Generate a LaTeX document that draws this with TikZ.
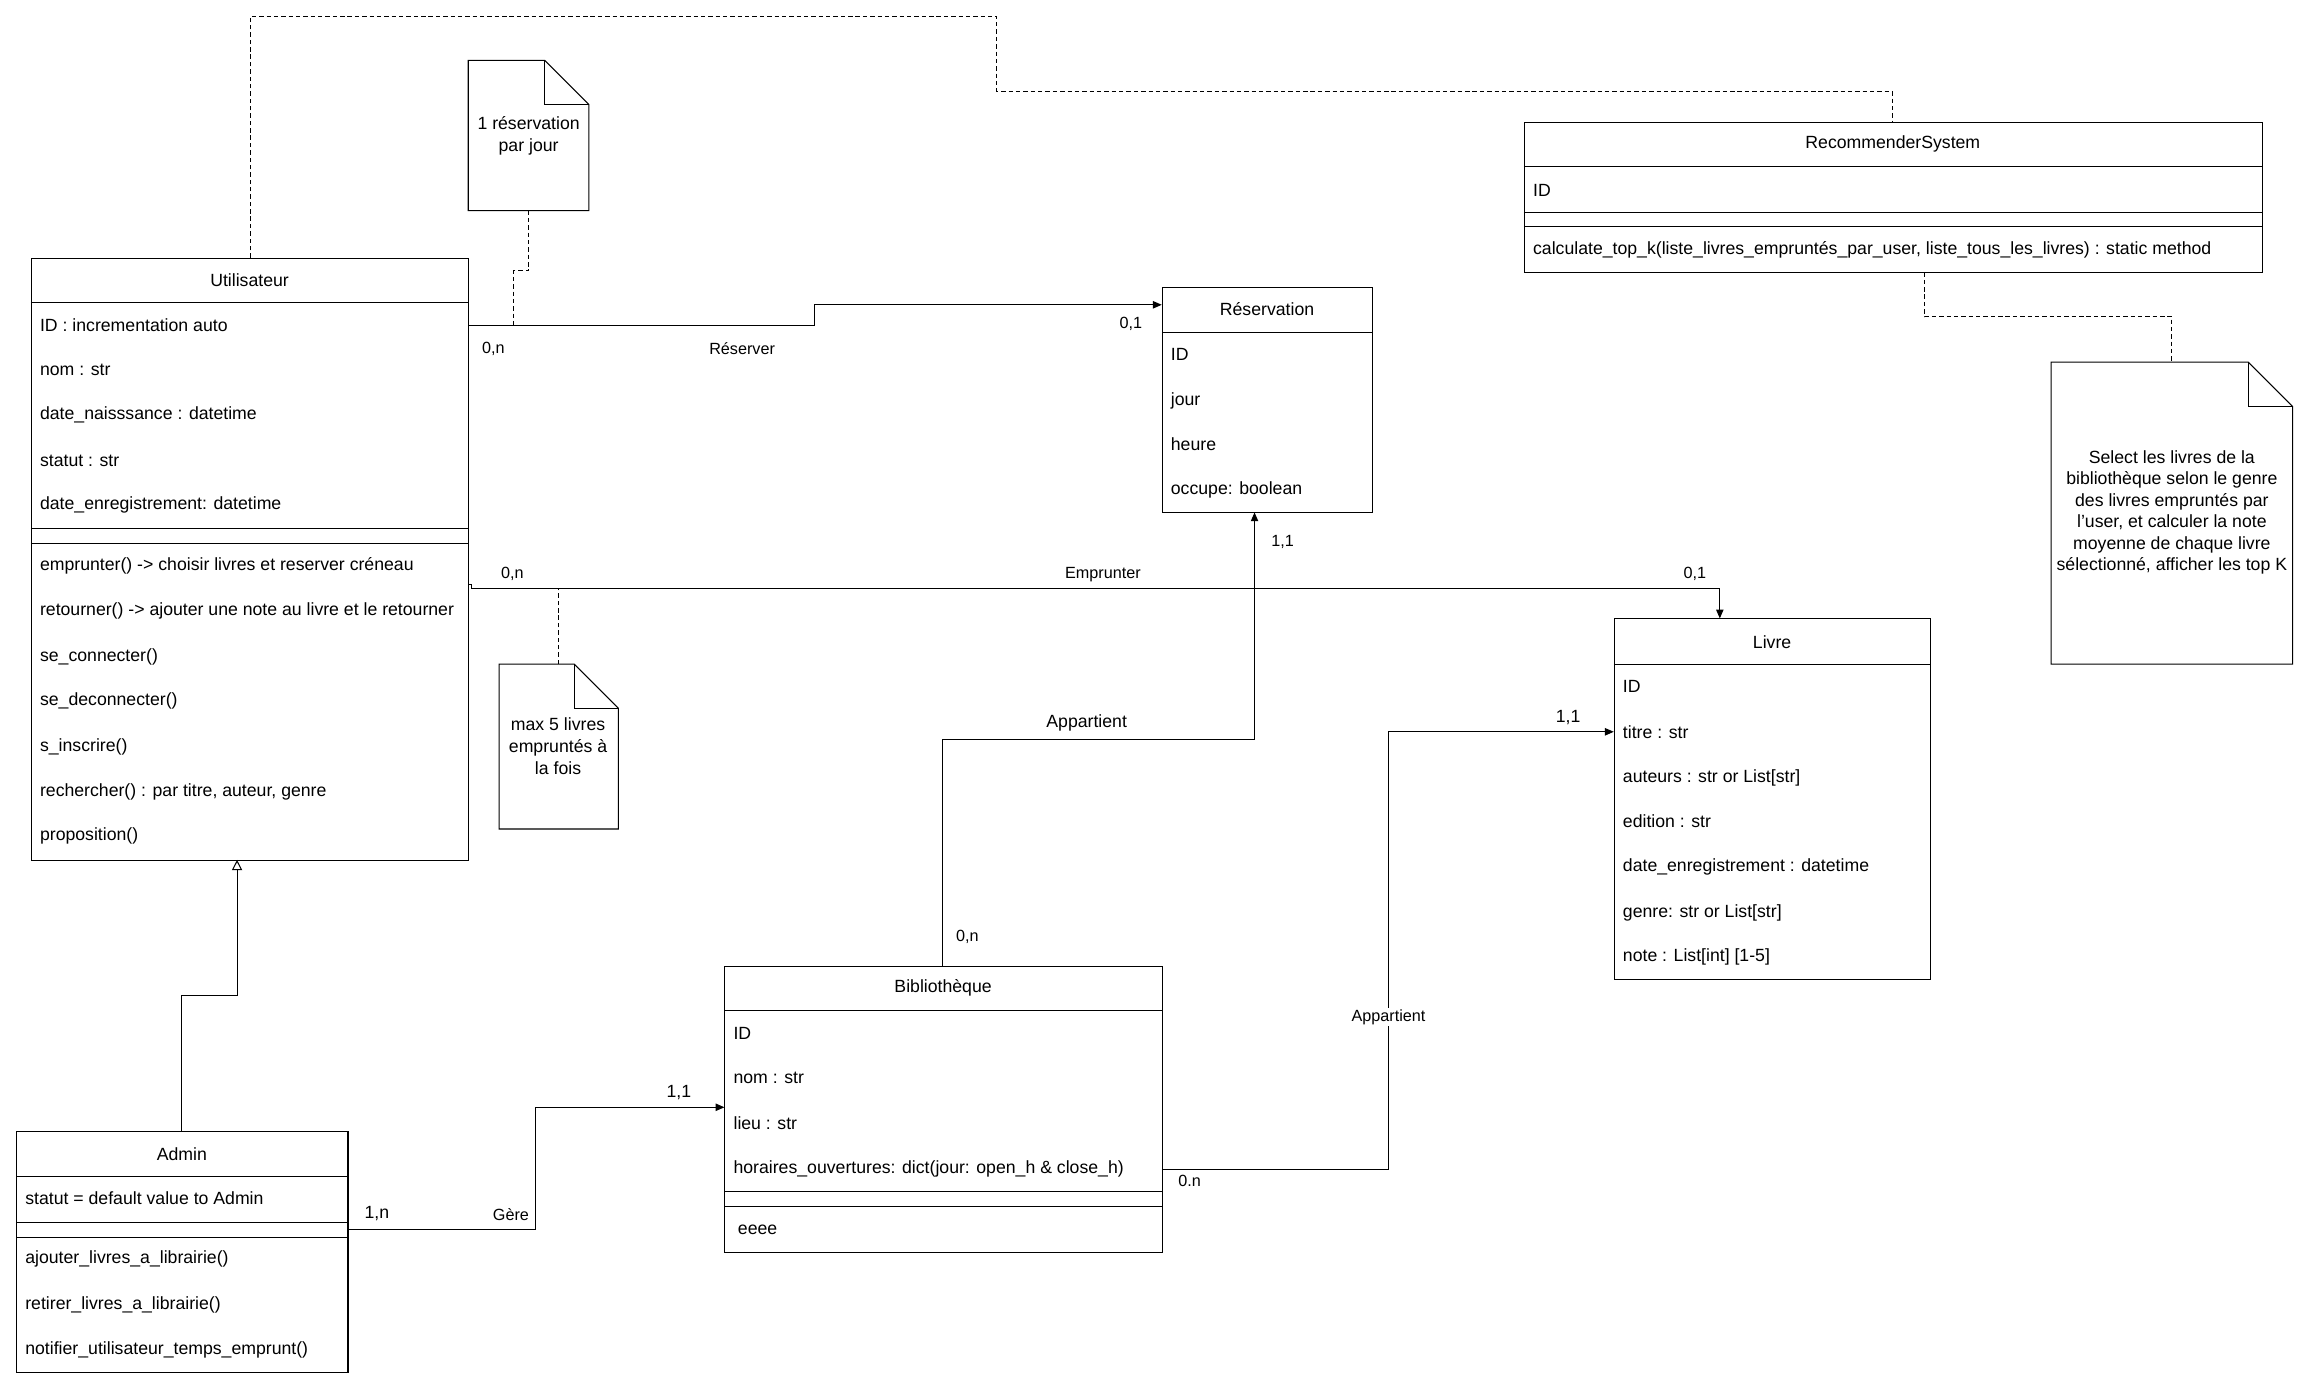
\documentclass[tikz,border=0pt]{standalone}
\usepackage{fontspec}
\setmainfont{Liberation Sans}
\usetikzlibrary{arrows.meta}
\begin{document}
\begin{tikzpicture}[x=1pt,y=-1pt,font=\fontsize{12}{14}\selectfont,
 box/.style={draw,line width=0.7pt},
 t/.style={anchor=west,inner sep=0},
 c/.style={inner sep=0},
 lbl/.style={inner sep=1pt,font=\fontsize{11}{13}\selectfont},
 conn/.style={line width=0.7pt},
 arr/.style={conn,-{Triangle[length=6pt,width=5pt]}},
 dsh/.style={line width=0.7pt,dash pattern=on 3pt off 2pt},
 note/.style={draw,line width=0.7pt,fill=white}]
\useasboundingbox[fill=white] (0,0) rectangle (1560,938.6);
% Utilisateur
\node[box,minimum width=297pt,minimum height=409pt,anchor=north west,inner sep=0] (U) at (21,175) {};
\draw (21,205)--(318,205) (21,359)--(318,359) (21,369)--(318,369);
\node[c] at (169.5,190) {Utilisateur};
\foreach \y/\s in {221/{ID : incrementation auto},251/{nom : str},282/{date\_naisssance : datetime},313/{statut : str},343/{date\_enregistrement: datetime},384/{emprunter() -> choisir livres et reserver créneau},415/{retourner() -> ajouter une note au livre et le retourner},446/{se\_connecter()},476/{se\_deconnecter()},507/{s\_inscrire()},538/{rechercher() : par titre, auteur, genre},568/{proposition()}}
 \node[t] at (27,\y) {\s};
% Reservation
\node[box,minimum width=143pt,minimum height=153pt,anchor=north west,inner sep=0] (R) at (789,195) {};
\draw (789,226)--(932,226);
\node[c] at (860.5,210) {Réservation};
\foreach \y/\s in {241/ID,272/jour,302/heure,333/{occupe: boolean}} \node[t] at (795,\y) {\s};
% Recommender
\node[box,minimum width=501pt,minimum height=102pt,anchor=north west,inner sep=0] (RS) at (1035,83) {};
\draw (1035,113)--(1536,113) (1035,144)--(1536,144) (1035,154)--(1536,154);
\node[c] at (1285.5,98) {RecommenderSystem};
\node[t] at (1041,129) {ID};
\node[t] at (1041,170) {calculate\_top\_k(liste\_livres\_empruntés\_par\_user, liste\_tous\_les\_livres) : static method};
% Livre
\node[box,minimum width=215pt,minimum height=245pt,anchor=north west,inner sep=0] (L) at (1096,420) {};
\draw (1096,451)--(1311,451);
\node[c] at (1203.5,436) {Livre};
\foreach \y/\s in {466/ID,497/{titre : str},528/{auteurs : str or List[str]},558/{edition : str},589/{date\_enregistrement : datetime},620/{genre: str or List[str]},650/{note : List[int] [1-5]}} \node[t] at (1102,\y) {\s};
% Bibliotheque
\node[box,minimum width=297pt,minimum height=194pt,anchor=north west,inner sep=0] (B) at (492,656) {};
\draw (492,686)--(789,686) (492,809)--(789,809) (492,819)--(789,819);
\node[c] at (640.5,671) {Bibliothèque};
\foreach \y/\s in {702/ID,732/{nom : str},763/{lieu : str},794/{horaires\_ouvertures: dict(jour: open\_h \& close\_h)}} \node[t] at (498,\y) {\s};
\node[t] at (501,835) {eeee};
% Admin
\node[box,minimum width=225pt,minimum height=164pt,anchor=north west,inner sep=0] (A) at (11,768) {};
\draw (11,799)--(236,799) (11,830)--(236,830) (11,840)--(236,840);
\node[c] at (123.5,784) {Admin};
\foreach \y/\s in {814/{statut = default value to Admin},855/{ajouter\_livres\_a\_librairie()},886/{retirer\_livres\_a\_librairie()},917/{notifier\_utilisateur\_temps\_emprunt()}} \node[t] at (17,\y) {\s};
% Notes
\draw[note] (318,41)--(370,41)--(400,71)--(400,143)--(318,143)--cycle;
\draw[line width=0.7pt] (370,41)--(370,71)--(400,71);
\coordinate (N1) at (359,143);
\node[c,align=center,font=\fontsize{12}{15}\selectfont] at (359,92.5) {1 réservation\\par jour};
\draw[note] (339,451)--(390,451)--(420,481)--(420,563)--(339,563)--cycle;
\draw[line width=0.7pt] (390,451)--(390,481)--(420,481);
\coordinate (N2) at (379,451);
\node[c,align=center,font=\fontsize{12}{15}\selectfont] at (379,507) {max 5 livres\\empruntés à\\la fois};
\draw[note] (1393,246)--(1527,246)--(1557,276)--(1557,451)--(1393,451)--cycle;
\draw[line width=0.7pt] (1527,246)--(1527,276)--(1557,276);
\coordinate (N3) at (1475,246);
\node[c,align=center,font=\fontsize{12}{14.6}\selectfont] at (1475,348) {Select les livres de la\\bibliothèque selon le genre\\des livres empruntés par\\l'user, et calculer la note\\moyenne de chaque livre\\sélectionné, afficher les top K};
% connectors
\draw[arr] (318,221)--(553,221)--(553,207)--(R.north west|-0,207);
\node[lbl] at (335,237) {0,n}; \node[lbl] at (504,237) {Réserver}; \node[lbl] at (768,220) {0,1};
\draw[dsh] (N1)--(359,184)--(349,184)--(349,221);
\draw[arr] (318,397)--(320,397)--(320,400)--(1168,400)--(1168,420);
\node[lbl] at (348,390) {0,n}; \node[lbl] at (749,390) {Emprunter}; \node[lbl] at (1151,390) {0,1};
\draw[dsh] (N2)--(379,400);
\draw[dsh] (U.north-|170,0)--(170,11)--(677,11)--(677,62)--(1285,62)--(1285,83);
\draw[dsh] (1307,185)--(1307,215)--(1475,215)--(N3);
\draw[arr] (640,656)--(640,502)--(852,502)--(852,348);
\node[lbl,font=\fontsize{12}{14}\selectfont] at (738,491) {Appartient}; \node[lbl] at (871,368) {1,1}; \node[lbl] at (657,636) {0,n};
\draw[arr] (789,794)--(943,794)--(943,497)--(1096,497);
\node[lbl,fill=white] at (943,691) {Appartient}; \node[lbl,font=\fontsize{12}{14}\selectfont] at (1065,487) {1,1}; \node[lbl] at (808,802) {0.n};
\draw[arr] (236,835)--(364,835)--(364,752)--(492,752);
\node[lbl,font=\fontsize{12}{14}\selectfont] at (256,824) {1,n}; \node[lbl] at (347,825) {Gère}; \node[lbl,font=\fontsize{12}{14}\selectfont] at (461,742) {1,1};
\draw[conn,-{Triangle[open,length=7pt,width=7pt]}] (123,768)--(123,676)--(161,676)--(161,584);
\end{tikzpicture}
\end{document}
